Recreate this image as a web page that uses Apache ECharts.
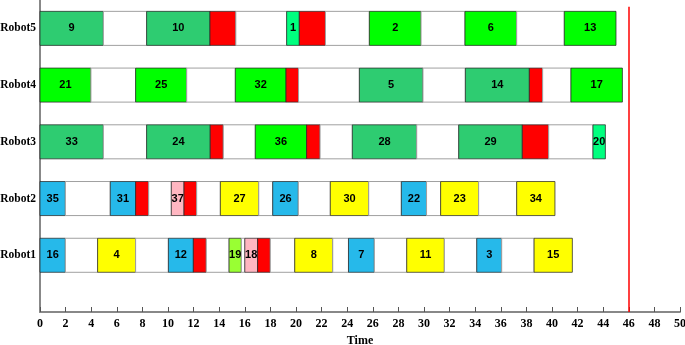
<!DOCTYPE html>
<html>
<head>
<meta charset="utf-8">
<script src="https://cdn.jsdelivr.net/npm/echarts@6/dist/echarts.min.js"></script>
<style>
  html, body { margin: 0; padding: 0; background: #fff; }
  #main { width: 685px; height: 345px; }
</style>
</head>
<body>
<div id="main"></div>
<script>
var robots = ['Robot1', 'Robot2', 'Robot3', 'Robot4', 'Robot5'];

// [start, end, task, kind]
var robot1Tasks = [
    [0, 1.98, '16', 'b'], [1.98, 4.5, '', 'idle'], [4.5, 7.47, '4', 'y'], [7.47, 10.03, '', 'idle'],
    [10.03, 11.98, '12', 'b'], [11.98, 12.99, '', 'r'], [12.99, 14.77, '', 'idle'], [14.77, 15.73, '19', 'lg'],
    [15.73, 16.0, '', 'idle'], [16.0, 17.0, '18', 'p'], [17.0, 17.99, '', 'r'], [17.99, 19.9, '', 'idle'],
    [19.9, 22.87, '8', 'y'], [22.87, 24.1, '', 'idle'], [24.1, 26.12, '7', 'b'], [26.12, 28.65, '', 'idle'],
    [28.65, 31.59, '11', 'y'], [31.59, 34.12, '', 'idle'], [34.12, 36.07, '3', 'b'], [36.07, 38.6, '', 'idle'],
    [38.6, 41.59, '15', 'y']
];
var robot2Tasks = [
    [0, 1.98, '35', 'b'], [1.98, 5.49, '', 'idle'], [5.49, 7.47, '31', 'b'], [7.47, 8.49, '', 'r'],
    [8.49, 10.26, '', 'idle'], [10.26, 11.25, '37', 'p'], [11.25, 12.24, '', 'r'], [12.24, 14.09, '', 'idle'],
    [14.09, 17.09, '27', 'y'], [17.09, 18.18, '', 'idle'], [18.18, 20.18, '26', 'b'], [20.18, 22.68, '', 'idle'],
    [22.68, 25.68, '30', 'y'], [25.68, 28.23, '', 'idle'], [28.23, 30.2, '22', 'b'], [30.2, 31.3, '', 'idle'],
    [31.3, 34.27, '23', 'y'], [34.27, 37.24, '', 'idle'], [37.24, 40.23, '34', 'y']
];
var robot3Tasks = [
    [0, 4.95, '33', 'g'], [4.95, 8.33, '', 'idle'], [8.33, 13.3, '24', 'g'], [13.3, 14.32, '', 'r'],
    [14.32, 16.82, '', 'idle'], [16.82, 20.83, '36', 'l'], [20.83, 21.88, '', 'r'], [21.88, 24.4, '', 'idle'],
    [24.4, 29.43, '28', 'g'], [29.43, 32.71, '', 'idle'], [32.71, 37.68, '29', 'g'], [37.68, 39.74, '', 'r'],
    [39.74, 43.2, '', 'idle'], [43.2, 44.17, '20', 's']
];
var robot4Tasks = [
    [0, 3.98, '21', 'l'], [3.98, 7.47, '', 'idle'], [7.47, 11.46, '25', 'l'], [11.46, 15.26, '', 'idle'],
    [15.26, 19.22, '32', 'l'], [19.22, 20.2, '', 'r'], [20.2, 24.95, '', 'idle'], [24.95, 29.92, '5', 'g'],
    [29.92, 33.23, '', 'idle'], [33.23, 38.23, '14', 'g'], [38.23, 39.27, '', 'r'], [39.27, 41.48, '', 'idle'],
    [41.48, 45.5, '17', 'l']
];
var robot5Tasks = [
    [0, 4.95, '9', 'g'], [4.95, 8.33, '', 'idle'], [8.33, 13.28, '10', 'g'], [13.28, 15.3, '', 'r'],
    [15.3, 19.27, '', 'idle'], [19.27, 20.26, '1', 's'], [20.26, 22.3, '', 'r'], [22.3, 25.73, '', 'idle'],
    [25.73, 29.77, '2', 'l'], [29.77, 33.2, '', 'idle'], [33.2, 37.24, '6', 'l'], [37.24, 40.96, '', 'idle'],
    [40.96, 45.0, '13', 'l']
];
var deadline = 46;
var xTicks = [0, 50, 2];

var kindColor = {
    idle: '#ffffff', r: '#ff0000', g: '#2ecc71', l: '#00ff00', s: '#00ff7f',
    b: '#26b9ea', y: '#ffff00', p: '#ffb6c1', lg: '#99ff33'
};

var allTasks = [robot1Tasks, robot2Tasks, robot3Tasks, robot4Tasks, robot5Tasks];
var rows = [];
for (var i = 0; i < allTasks.length; i++) {
    for (var j = 0; j < allTasks[i].length; j++) {
        var t = allTasks[i][j];
        rows.push({ robot: i + 1, start: t[0], end: t[1], name: t[2], kind: t[3] });
    }
}

function renderItem(params, api) {
    var d = rows[params.dataIndex];
    var s = api.coord([d.start, d.robot]);
    var e = api.coord([d.end, d.robot]);
    var h = api.size([0, 0.6])[1];
    return {
        type: 'rect',
        shape: { x: s[0], y: s[1] - h / 2, width: e[0] - s[0], height: h },
        style: {
            fill: kindColor[d.kind],
            stroke: d.kind === 'idle' ? '#a0a0a0' : 'rgba(40,40,40,0.75)',
            lineWidth: 1
        },
        textContent: {
            style: {
                text: d.name,
                fill: '#000',
                font: 'bold 11px "Liberation Sans", Arial, sans-serif'
            }
        },
        textConfig: { position: 'inside' }
    };
}

var myChart = echarts.init(document.getElementById('main'));
var option = {
    animation: false,
    grid: { left: 40, right: 5, top: 0, bottom: 33, outerBoundsMode: 'none' },
    xAxis: {
        type: 'value',
        min: xTicks[0],
        max: xTicks[1],
        interval: xTicks[2],
        name: 'Time',
        nameLocation: 'middle',
        nameGap: 21,
        nameTextStyle: { fontFamily: 'Liberation Serif', fontWeight: 'bold', fontSize: 12, color: '#000' },
        axisLine: { lineStyle: { color: '#888', width: 2 } },
        axisTick: { inside: true, length: 5, lineStyle: { color: '#555' } },
        axisLabel: { fontFamily: 'Liberation Serif', fontWeight: 'bold', fontSize: 12, color: '#000', margin: 6 },
        splitLine: { show: false }
    },
    yAxis: {
        type: 'value',
        min: 0,
        max: 5.5,
        interval: 1,
        axisLine: { show: true, lineStyle: { color: '#888', width: 2 } },
        axisTick: { show: false },
        splitLine: { show: false },
        axisLabel: {
            fontFamily: 'Liberation Serif', fontWeight: 'bold', fontSize: 11.5, color: '#000', margin: 4,
            formatter: function (v) {
                return (v >= 1 && v <= 5 && v % 1 === 0) ? robots[v - 1] : '';
            }
        }
    },
    series: [{
        type: 'custom',
        renderItem: renderItem,
        encode: { x: [1, 2], y: 0 },
        data: rows.map(function (d) { return [d.robot, d.start, d.end]; }),
        markLine: {
            silent: true,
            symbol: 'none',
            label: { show: false },
            lineStyle: { color: '#ff0000', width: 1.5, type: 'solid' },
            data: [[{ coord: [deadline, 0] }, { coord: [deadline, 5.38] }]]
        }
    }]
};
myChart.setOption(option);
</script>
</body>
</html>
